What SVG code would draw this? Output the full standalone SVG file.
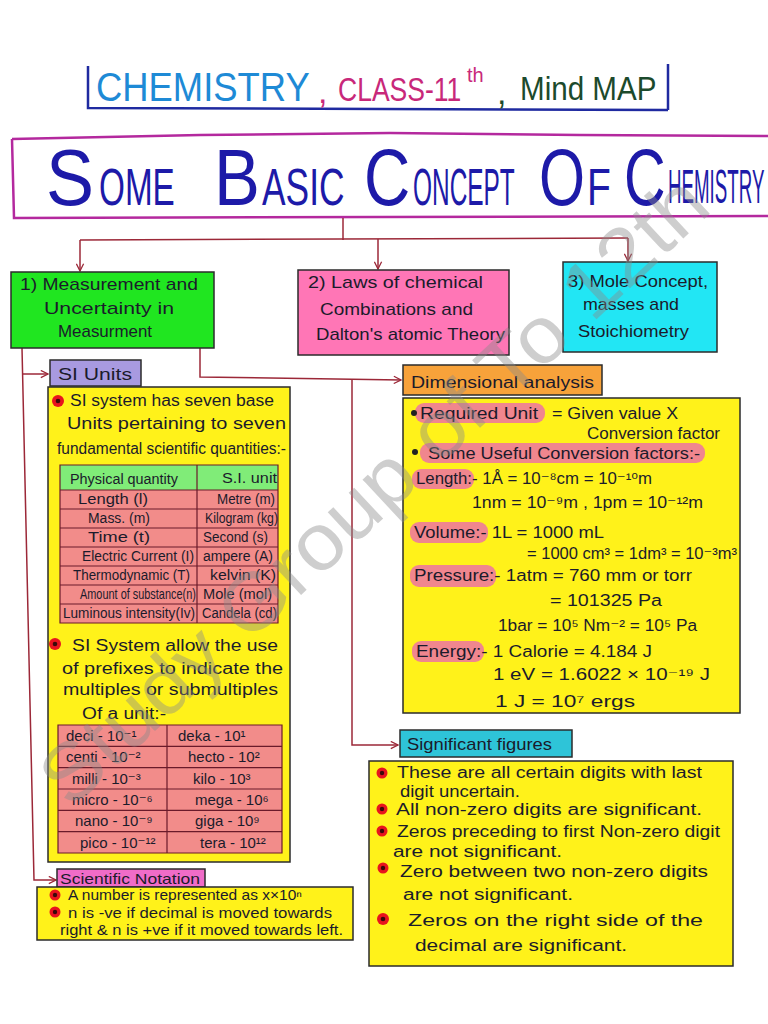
<svg xmlns="http://www.w3.org/2000/svg" width="768" height="1024" viewBox="0 0 768 1024">
<defs>
<marker id="ah" viewBox="0 0 10 10" refX="9" refY="5" markerWidth="9" markerHeight="9" orient="auto" markerUnits="userSpaceOnUse">
<path d="M1,1 L9,5 L1,9" fill="none" stroke="#9c2838" stroke-width="1.4"/>
</marker>
<style>
.t{font-family:"Liberation Sans","DejaVu Sans",sans-serif;fill:#1b1b2b;font-size:16px}
.s14{font-size:14px}
.s15{font-size:15px}
.s17{font-size:17px}
.bx{stroke:#2b2b2b;stroke-width:1.5}
.con{fill:none;stroke:#9c2838;stroke-width:1.5}
.yel{fill:#fff21a}
.tp{fill:#f28c8a}
.hl{fill:#f0868e}
.bo{fill:#e8141e}
.bi{fill:#3a0a0a}
.tl{fill:none;stroke:#6a1a2a;stroke-width:1.2}
.big{font-family:"Liberation Sans","DejaVu Sans",sans-serif;fill:#1d1aa8}
.hd{font-family:"Liberation Sans","DejaVu Sans",sans-serif}
</style>
</defs>
<rect width="768" height="1024" fill="#ffffff"/>

<g id="header">
<path d="M88,66 L88,108 L668,110 M668,64 L668,110" fill="none" stroke="#1f2aa0" stroke-width="2.5"/>
<text class="hd" font-size="40" fill="#1e8ad6" transform="translate(96 101) scale(0.91 1)">CHEMISTRY</text>
<text class="hd" x="318" y="103" font-size="34" fill="#c8287a">,</text>
<text class="hd" font-size="34" fill="#c8287a" transform="translate(338 101) scale(0.78 1)">CLASS-11</text>
<text class="hd" x="467" y="82" font-size="20" fill="#c8287a">th</text>
<text class="hd" x="497" y="104" font-size="34" fill="#1c4a2c">,</text>
<text class="hd" font-size="34" fill="#1c4a2c" transform="translate(520 100) scale(0.87 1)">Mind MAP</text>
</g>

<g id="main-title">
<path d="M12,139 L200,135 L390,133 L580,135 L768,136 M12,139 L14,218 L768,216" fill="none" stroke="#b4299e" stroke-width="2.5"/>
<text class="big" font-size="80" transform="translate(46 205) scale(0.9 1)">S</text>
<text class="big" font-size="52" transform="translate(99 205) scale(0.64 1)">OME</text>
<text class="big" font-size="80" transform="translate(214 205) scale(0.86 1)">B</text>
<text class="big" font-size="52" transform="translate(262 205) scale(0.68 1)">ASIC</text>
<text class="big" font-size="80" transform="translate(364 205) scale(0.8 1)">C</text>
<text class="big" font-size="52" transform="translate(413 205) scale(0.47 1)">ONCEPT</text>
<text class="big" font-size="80" transform="translate(539 205) scale(0.74 1)">O</text>
<text class="big" font-size="52" transform="translate(587 205) scale(0.75 1)">F</text>
<text class="big" font-size="80" transform="translate(624 205) scale(0.72 1)">C</text>
<text class="big" font-size="48" transform="translate(668 203) scale(0.39 1)">HEMISTRY</text>
</g>

<g id="connectors">
<path class="con" d="M343,218 L343,240"/>
<path class="con" d="M80,240 L628,238"/>
<path class="con" d="M80,240 L80,271" marker-end="url(#ah)"/>
<path class="con" d="M378,239 L378,269" marker-end="url(#ah)"/>
<path class="con" d="M628,238 L628,261" marker-end="url(#ah)"/>
<path class="con" d="M22,348 L34,880 L56,880" marker-end="url(#ah)"/>
<path class="con" d="M22,374 L48,374" marker-end="url(#ah)"/>
<path class="con" d="M200,348 L200,377 L401,380" marker-end="url(#ah)"/>
<path class="con" d="M352,380 L352,745 L398,745" marker-end="url(#ah)"/>
</g>

<g id="node-measurement">
<rect class="bx" x="11" y="272" width="203" height="76" fill="#20e620"/>
<text class="t s17" x="20" y="290" textLength="178" lengthAdjust="spacingAndGlyphs">1) Measurement and</text>
<text class="t s17" x="44" y="314" textLength="130" lengthAdjust="spacingAndGlyphs">Uncertainty in</text>
<text class="t s17" x="58" y="337" textLength="94" lengthAdjust="spacingAndGlyphs">Measurment</text>
</g>

<g id="node-laws">
<rect class="bx" x="298" y="270" width="211" height="85" fill="#ff76b6"/>
<text class="t s17" x="308" y="288" textLength="175" lengthAdjust="spacingAndGlyphs">2) Laws of chemical</text>
<text class="t s17" x="320" y="315" textLength="153" lengthAdjust="spacingAndGlyphs">Combinations and</text>
<text class="t s17" x="316" y="340" textLength="189" lengthAdjust="spacingAndGlyphs">Dalton's atomic Theory</text>
</g>

<g id="node-mole">
<rect class="bx" x="563" y="262" width="154" height="90" fill="#22e6f4"/>
<text class="t s17" x="568" y="287" textLength="140" lengthAdjust="spacingAndGlyphs">3) Mole Concept,</text>
<text class="t s17" x="583" y="310" textLength="96" lengthAdjust="spacingAndGlyphs">masses and</text>
<text class="t s17" x="578" y="337" textLength="111" lengthAdjust="spacingAndGlyphs">Stoichiometry</text>
</g>

<g id="node-si-units">
<rect class="bx" x="50" y="360" width="91" height="26" fill="#a89ae0"/>
<text class="t" x="58" y="380" font-size="19" textLength="74" lengthAdjust="spacingAndGlyphs">SI Units</text>
<rect class="bx yel" x="48" y="387" width="242" height="475"/>
<circle class="bo" cx="58" cy="401" r="6"/><circle class="bi" cx="58" cy="401" r="2.3"/>
<text class="t" x="70" y="406" textLength="204" lengthAdjust="spacingAndGlyphs">SI system has seven base</text>
<text class="t" x="67" y="429" textLength="219" lengthAdjust="spacingAndGlyphs">Units pertaining to seven</text>
<text class="t" x="57" y="454" textLength="229" lengthAdjust="spacingAndGlyphs">fundamental scientific quantities:-</text>
<rect x="60" y="465" width="218" height="25" fill="#80ec78"/>
<rect class="tp" x="60" y="490" width="218" height="133"/>
<path class="tl" d="M60,465 H278 V623 H60 Z M60,490 H278 M60,509 H278 M60,528 H278 M60,547 H278 M60,566 H278 M60,585 H278 M60,604 H278 M197,465 V623"/>
<text class="t s14" x="70" y="484" textLength="108" lengthAdjust="spacingAndGlyphs">Physical quantity</text>
<text class="t s14" x="222" y="483" textLength="55" lengthAdjust="spacingAndGlyphs">S.I. unit</text>
<text class="t s14" x="78" y="504" textLength="70" lengthAdjust="spacingAndGlyphs">Length (l)</text>
<text class="t s14" x="217" y="504" textLength="58" lengthAdjust="spacingAndGlyphs">Metre (m)</text>
<text class="t s14" x="88" y="523" textLength="62" lengthAdjust="spacingAndGlyphs">Mass. (m)</text>
<text class="t s14" x="205" y="523" textLength="73" lengthAdjust="spacingAndGlyphs">Kilogram (kg)</text>
<text class="t s14" x="88" y="542" textLength="62" lengthAdjust="spacingAndGlyphs">Time (t)</text>
<text class="t s14" x="203" y="542" textLength="65" lengthAdjust="spacingAndGlyphs">Second (s)</text>
<text class="t s14" x="82" y="561" textLength="112" lengthAdjust="spacingAndGlyphs">Electric Current (I)</text>
<text class="t s14" x="203" y="561" textLength="70" lengthAdjust="spacingAndGlyphs">ampere (A)</text>
<text class="t s14" x="73" y="580" textLength="117" lengthAdjust="spacingAndGlyphs">Thermodynamic (T)</text>
<text class="t s14" x="210" y="580" textLength="66" lengthAdjust="spacingAndGlyphs">kelvin (K)</text>
<text class="t s14" transform="translate(80 599) scale(0.78 1)">Amount of substance(n)</text>
<text class="t s14" x="203" y="599" textLength="69" lengthAdjust="spacingAndGlyphs">Mole (mol)</text>
<text class="t s14" transform="translate(63 618) scale(0.97 1)">Luminous intensity(Iv)</text>
<text class="t s14" x="202" y="618" textLength="75" lengthAdjust="spacingAndGlyphs">Candela (cd)</text>
<circle class="bo" cx="55" cy="644" r="6"/><circle class="bi" cx="55" cy="644" r="2.3"/>
<text class="t" x="72" y="651" textLength="206" lengthAdjust="spacingAndGlyphs">SI System allow the use</text>
<text class="t" x="62" y="674" textLength="221" lengthAdjust="spacingAndGlyphs">of prefixes to indicate the</text>
<text class="t" x="63" y="695" textLength="215" lengthAdjust="spacingAndGlyphs">multiples or submultiples</text>
<text class="t" x="82" y="719" textLength="84" lengthAdjust="spacingAndGlyphs">Of a unit:-</text>
<rect class="tp" x="58" y="725" width="224" height="128"/>
<path class="tl" d="M58,725 H282 V853 H58 Z M58,746.3 H282 M58,767.7 H282 M58,789 H282 M58,810.3 H282 M58,831.7 H282 M167,725 V853"/>
<text class="t s15" x="66" y="741">deci - 10⁻¹</text>
<text class="t s15" x="66" y="762">centi - 10⁻²</text>
<text class="t s15" x="72" y="784">milli - 10⁻³</text>
<text class="t s15" x="72" y="805">micro - 10⁻⁶</text>
<text class="t s15" x="75" y="826">nano - 10⁻⁹</text>
<text class="t s15" x="80" y="848">pico - 10⁻¹²</text>
<text class="t s15" x="178" y="741">deka - 10¹</text>
<text class="t s15" x="188" y="762">hecto - 10²</text>
<text class="t s15" x="193" y="784">kilo - 10³</text>
<text class="t s15" x="195" y="805">mega - 10⁶</text>
<text class="t s15" x="195" y="826">giga - 10⁹</text>
<text class="t s15" x="200" y="848">tera - 10¹²</text>
</g>

<g id="node-scientific-notation">
<rect class="bx" x="57" y="869" width="148" height="18" fill="#f06cc8"/>
<text class="t s15" x="60" y="884" textLength="140" lengthAdjust="spacingAndGlyphs">Scientific Notation</text>
<rect class="bx yel" x="37" y="887" width="316" height="53"/>
<circle class="bo" cx="55" cy="895" r="5.5"/><circle class="bi" cx="55" cy="895" r="2.2"/>
<text class="t s15" x="68" y="900" textLength="234" lengthAdjust="spacingAndGlyphs">A number is represented as x×10ⁿ</text>
<circle class="bo" cx="55" cy="912" r="5.5"/><circle class="bi" cx="55" cy="912" r="2.2"/>
<text class="t s15" x="68" y="918" textLength="264" lengthAdjust="spacingAndGlyphs">n is -ve if decimal is moved towards</text>
<text class="t s15" x="60" y="935" textLength="283" lengthAdjust="spacingAndGlyphs">right &amp; n is +ve if it moved towards left.</text>
</g>

<g id="node-dimensional-analysis">
<rect class="bx" x="403" y="365" width="199" height="30" fill="#f7a23a"/>
<text class="t" x="411" y="388" font-size="18" textLength="183" lengthAdjust="spacingAndGlyphs">Dimensional analysis</text>
<rect class="bx yel" x="403" y="398" width="337" height="315"/>
<rect class="hl" x="415" y="403" width="130" height="20" rx="9"/>
<rect class="hl" x="420" y="443" width="285" height="20" rx="9"/>
<rect class="hl" x="412" y="469" width="62" height="20" rx="9"/>
<rect class="hl" x="410" y="522" width="78" height="21" rx="9"/>
<rect class="hl" x="410" y="565" width="86" height="22" rx="9"/>
<rect class="hl" x="412" y="641" width="72" height="21" rx="9"/>
<circle cx="414" cy="413" r="3" fill="#222"/>
<circle cx="415" cy="452" r="3" fill="#222"/>
<text class="t" x="420" y="419" textLength="118" lengthAdjust="spacingAndGlyphs">Required Unit</text>
<text class="t" x="552" y="419" textLength="126" lengthAdjust="spacingAndGlyphs">= Given value X</text>
<text class="t" x="587" y="439" textLength="133" lengthAdjust="spacingAndGlyphs">Conversion factor</text>
<text class="t" x="428" y="459" textLength="272" lengthAdjust="spacingAndGlyphs">Some Useful Conversion factors:-</text>
<text class="t" x="416" y="484" textLength="236" lengthAdjust="spacingAndGlyphs">Length:- 1Å = 10⁻⁸cm = 10⁻¹⁰m</text>
<text class="t" x="472" y="508" textLength="231" lengthAdjust="spacingAndGlyphs">1nm = 10⁻⁹m , 1pm = 10⁻¹²m</text>
<text class="t" x="414" y="538" textLength="190" lengthAdjust="spacingAndGlyphs">Volume:- 1L = 1000 mL</text>
<text class="t" x="527" y="559" textLength="210" lengthAdjust="spacingAndGlyphs">= 1000 cm³ = 1dm³ = 10⁻³m³</text>
<text class="t" x="414" y="581" textLength="278" lengthAdjust="spacingAndGlyphs">Pressure:- 1atm = 760 mm or torr</text>
<text class="t" x="550" y="606" textLength="112" lengthAdjust="spacingAndGlyphs">= 101325 Pa</text>
<text class="t" x="498" y="631" textLength="199" lengthAdjust="spacingAndGlyphs">1bar = 10⁵ Nm⁻² = 10⁵ Pa</text>
<text class="t" x="416" y="657" textLength="236" lengthAdjust="spacingAndGlyphs">Energy:- 1 Calorie = 4.184 J</text>
<text class="t" x="493" y="680" textLength="217" lengthAdjust="spacingAndGlyphs">1 eV = 1.6022 × 10⁻¹⁹ J</text>
<text class="t" x="495" y="707" textLength="140" lengthAdjust="spacingAndGlyphs">1 J = 10⁷ ergs</text>
</g>

<g id="node-significant-figures">
<rect class="bx" x="400" y="730" width="172" height="27" fill="#2ec4d8"/>
<text class="t s17" x="407" y="750" textLength="145" lengthAdjust="spacingAndGlyphs">Significant figures</text>
<rect class="bx yel" x="369" y="761" width="364" height="205"/>
<circle class="bo" cx="382" cy="773" r="5.5"/><circle class="bi" cx="382" cy="773" r="2.2"/>
<text class="t" x="397" y="778" textLength="305" lengthAdjust="spacingAndGlyphs">These are all certain digits with last</text>
<text class="t" x="400" y="797" textLength="120" lengthAdjust="spacingAndGlyphs">digit uncertain.</text>
<circle class="bo" cx="382" cy="809" r="5.5"/><circle class="bi" cx="382" cy="809" r="2.2"/>
<text class="t" x="396" y="815" textLength="306" lengthAdjust="spacingAndGlyphs">All non-zero digits are significant.</text>
<circle class="bo" cx="382" cy="831" r="5.5"/><circle class="bi" cx="382" cy="831" r="2.2"/>
<text class="t" x="397" y="837" textLength="323" lengthAdjust="spacingAndGlyphs">Zeros preceding to first Non-zero digit</text>
<text class="t" x="393" y="857" textLength="169" lengthAdjust="spacingAndGlyphs">are not significant.</text>
<circle class="bo" cx="383" cy="868" r="5.5"/><circle class="bi" cx="383" cy="868" r="2.2"/>
<text class="t" x="400" y="877" textLength="308" lengthAdjust="spacingAndGlyphs">Zero between two non-zero digits</text>
<text class="t" x="403" y="900" textLength="170" lengthAdjust="spacingAndGlyphs">are not significant.</text>
<circle class="bo" cx="383" cy="919" r="6"/><circle class="bi" cx="383" cy="919" r="2.3"/>
<text class="t" x="408" y="926" textLength="295" lengthAdjust="spacingAndGlyphs">Zeros on the right side of the</text>
<text class="t" x="415" y="951" textLength="212" lengthAdjust="spacingAndGlyphs">decimal are significant.</text>
</g>

<g id="watermark">
<text x="392" y="510" transform="rotate(-43 392 510)" text-anchor="middle" font-family="Liberation Sans, DejaVu Sans, sans-serif" font-size="80" fill="#8a8a8a" fill-opacity="0.42" textLength="880" lengthAdjust="spacingAndGlyphs">Study Group of To 12th</text>
</g>
</svg>
